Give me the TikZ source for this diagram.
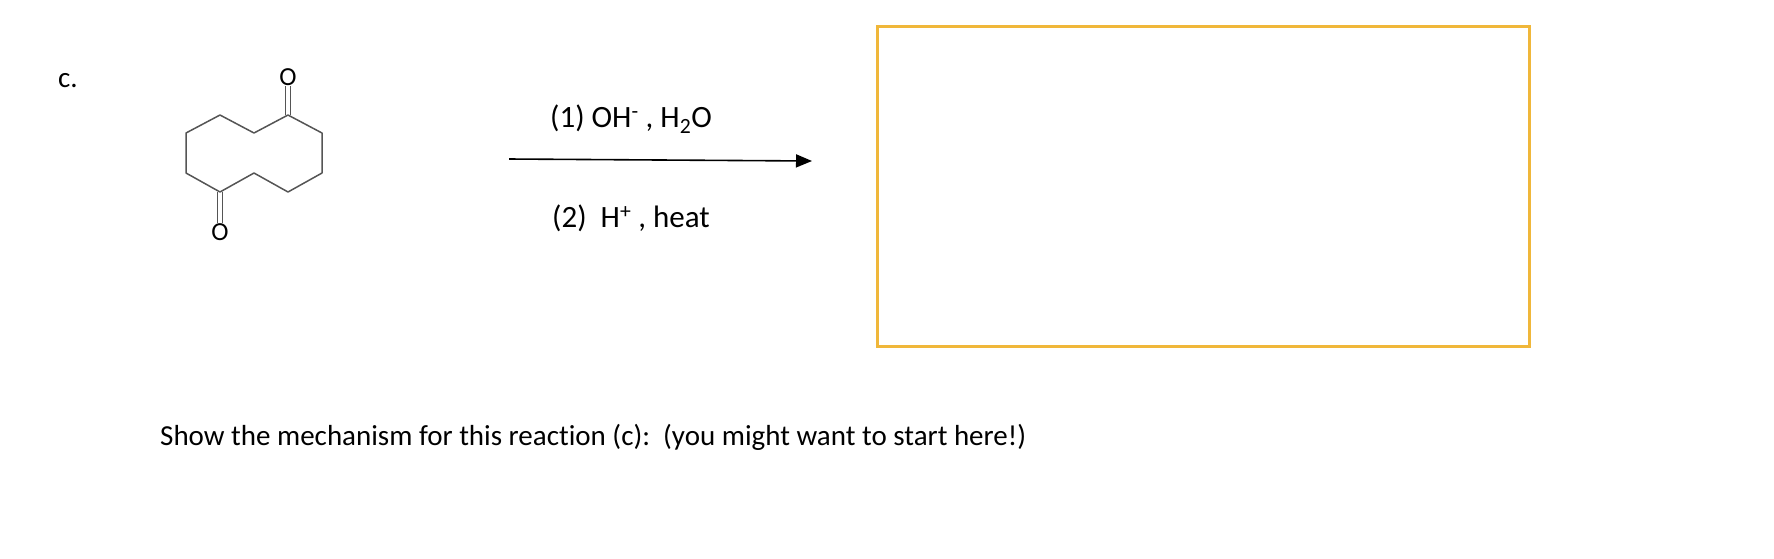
\documentclass[tikz,border=0pt]{standalone}
\usepackage{fontspec}
\setmainfont[Ligatures=CommonOff]{Carlito}
\usetikzlibrary{arrows.meta}
\definecolor{boxor}{HTML}{F0B73A}
\definecolor{bond}{HTML}{555555}
\begin{document}
\begin{tikzpicture}[x=1pt,y=-1pt,
  txt/.style={inner sep=0pt,font=\fontsize{29}{33}\selectfont},
  rtxt/.style={inner sep=0pt,font=\fontsize{31}{35}\selectfont},
  atom/.style={inner sep=0pt,font=\fontsize{26}{28}\selectfont},
  bd/.style={draw=bond,line width=1.5pt}]
\useasboundingbox (0,0) rectangle (1774,558);
\node[txt,anchor=west] (lab) at (58,81) {c.};
% ring
\foreach \n/\p in {a/{288,115},b/{322,133},c/{322,173},d/{288,192},e/{254,173},f/{220,192},g/{186,173},h/{186,133},i/{220,115},j/{254,133}}
  \coordinate (\n) at (\p);
\draw[bd,line join=round] (a)--(b)--(c)--(d)--(e)--(f)--(g)--(h)--(i)--(j)--cycle;
\node[atom] (o1) at (288,77) {O};
\node[atom] (o2) at (220,232) {O};
\draw[bd] ([xshift=-2.5pt]a) -- ([xshift=-2.5pt]o1.south);
\draw[bd] ([xshift=2.5pt]a) -- ([xshift=2.5pt]o1.south);
\draw[bd] ([xshift=-2.5pt]f) -- ([xshift=-2.5pt]o2.north);
\draw[bd] ([xshift=2.5pt]f) -- ([xshift=2.5pt]o2.north);
% arrow
\coordinate (as) at (509,159);
\coordinate (ae) at (812,161);
\draw[line width=1.6pt,-{Triangle[length=16pt,width=13pt]}] (as) -- (ae);
\node[rtxt] (r1) at (631,119) {(1) OH\textsuperscript{-} , H\textsubscript{2}O};
\node[rtxt] (r2) at (631,218) {(2)\ \ H\textsuperscript{+} ,\ heat};
% box
\node[draw=boxor,line width=3pt,minimum width=652pt,minimum height=320pt,anchor=north west] (box) at (876,25) {};
\node[txt,anchor=west] (q) at (160,437) {Show the mechanism for this reaction (c):\ \ (you might want to start here!)};
\end{tikzpicture}
\end{document}
